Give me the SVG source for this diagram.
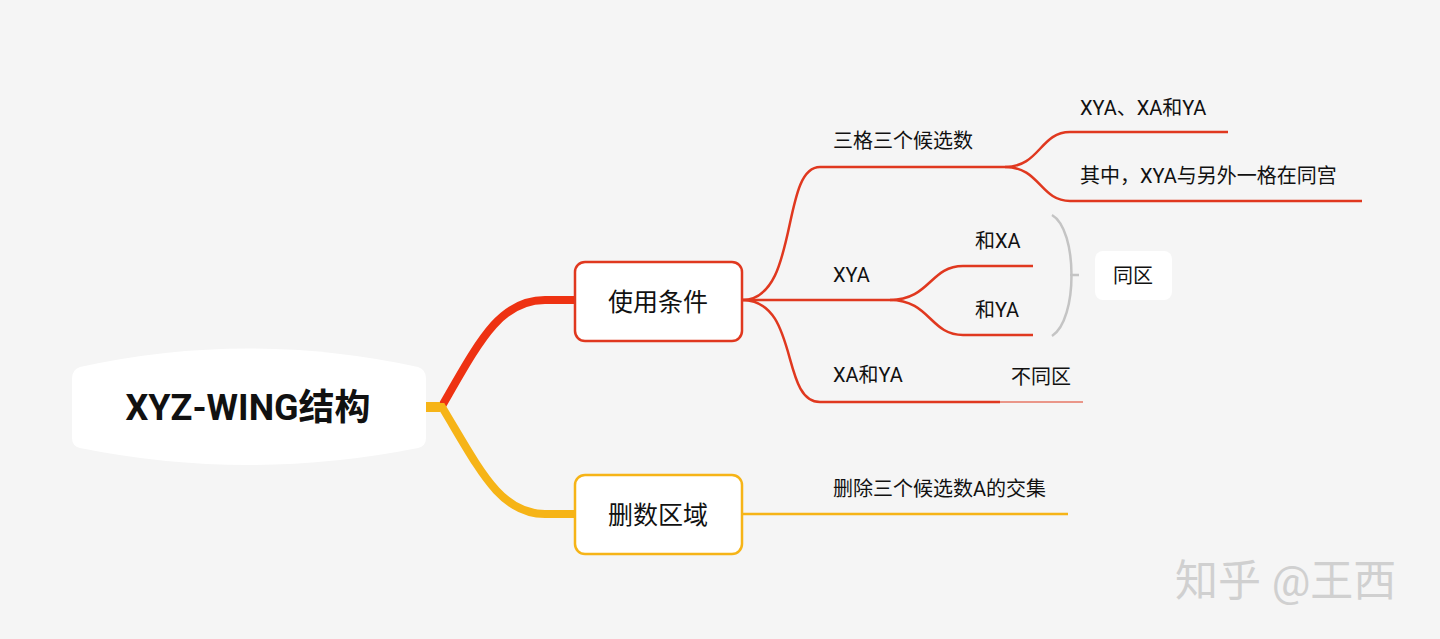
<svg xmlns="http://www.w3.org/2000/svg" width="1440" height="639" viewBox="0 0 1440 639">
<style>
text{font-family:Roboto,"Noto Sans CJK SC",sans-serif;fill:#111}
.r{fill:none;stroke:#e0381f;stroke-width:2.5}
.y{fill:none;stroke:#f6b417;stroke-width:2.5}
.l{font-size:20px}
</style>
<rect width="1440" height="639" fill="#f5f5f5"/>
<g id="connectors">
<path d="M430 406 L442 406 C480 340 500 300 545 300 L575 300" fill="none" stroke="#ee3212" stroke-width="8"/>
<path d="M424 407 L442 407 C480 470 500 514 545 514 L575 514" fill="none" stroke="#f6b417" stroke-width="8"/>
<path d="M424 402 h16 v10 h-16z" fill="#f6b417"/>
<path class="r" d="M742 300 C800 300 780 167 820 167 L1005 167 C1040 167 1040 132 1070 132 L1228 132"/>
<path class="r" d="M1005 167 C1040 167 1040 201 1070 201 L1362 201"/>
<path class="r" d="M742 300 L890 300 C930 300 930 266 963 266 L1033 266"/>
<path class="r" d="M890 300 C930 300 930 335 963 335 L1033 335"/>
<path class="r" d="M742 300 C800 300 780 402 820 402 L1000 402"/>
<path d="M1000 402 L1083 402" stroke="#e0381f" stroke-width="1.2"/>
<path d="M1052 215 C1078 230 1078 320 1052 336 M1070 275 L1079 275" fill="none" stroke="#c4c4c4" stroke-width="2.5"/>
<path class="y" d="M742 514 L1068 514"/>
</g>
<g id="root">
<path d="M80 367 Q248 330 418 367 Q426 370 426 378 L426 438 Q426 446 418 448 Q248 482 80 448 Q72 446 72 438 L72 378 Q72 370 80 367Z" fill="#fff"/>
<text x="248" y="420" text-anchor="middle" font-size="36" font-weight="bold">XYZ-WING结构</text>
</g>
<g id="n1"><rect x="575" y="262" width="167" height="79" rx="10" fill="#fff" stroke="#e0381f" stroke-width="2.5"/><text x="658" y="311" text-anchor="middle" font-size="25">使用条件</text></g>
<g id="n2"><rect x="575" y="475" width="167" height="79" rx="10" fill="#fff" stroke="#f6b417" stroke-width="2.5"/><text x="658" y="524" text-anchor="middle" font-size="25">删数区域</text></g>
<g id="t1"><text class="l" x="833" y="148">三格三个候选数</text></g>
<g id="t2"><text class="l" x="1080" y="115">XYA、XA和YA</text></g>
<g id="t3"><text class="l" x="1080" y="183">其中，XYA与另外一格在同宫</text></g>
<g id="t4"><text class="l" x="833" y="282">XYA</text></g>
<g id="t5"><text class="l" x="975" y="248">和XA</text></g>
<g id="t6"><text class="l" x="975" y="317">和YA</text></g>
<g id="t7"><rect x="1095" y="251" width="77" height="49" rx="8" fill="#fff"/><text class="l" x="1133" y="283" text-anchor="middle">同区</text></g>
<g id="t8"><text class="l" x="833" y="382">XA和YA</text></g>
<g id="t9"><text class="l" x="1011" y="384">不同区</text></g>
<g id="t10"><text class="l" x="833" y="496">删除三个候选数A的交集</text></g>
<text x="1175" y="596" font-size="43" style="fill:#d0d0d0">知乎 @王西</text>
</svg>
